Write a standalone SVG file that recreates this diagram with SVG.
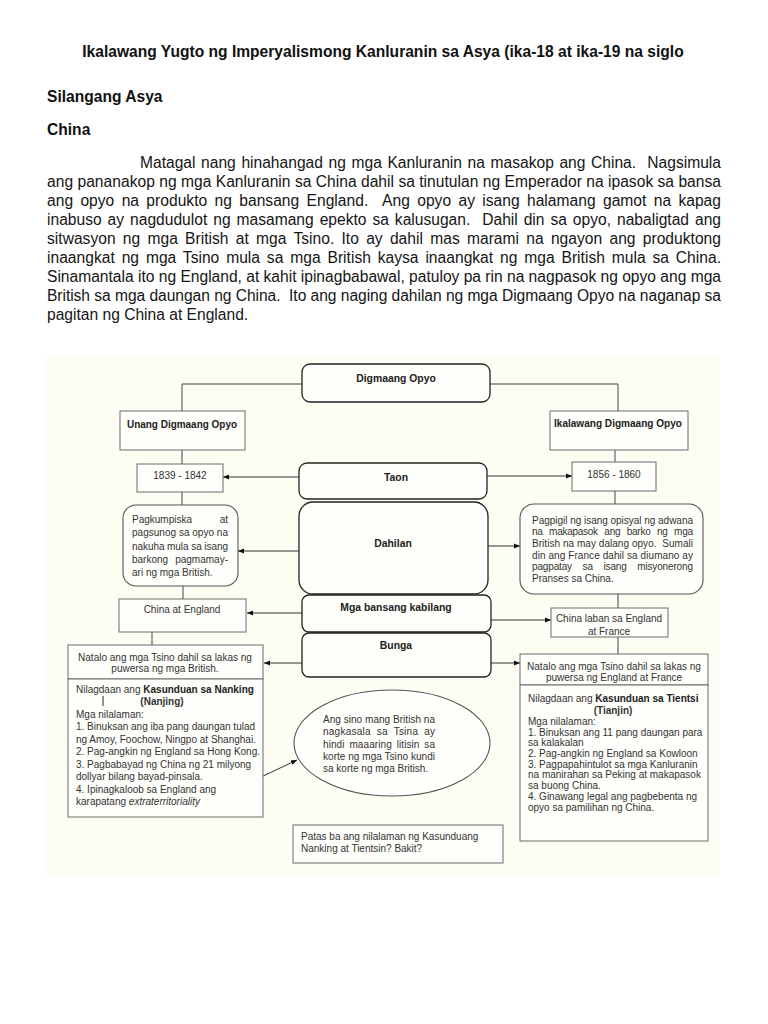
<svg xmlns="http://www.w3.org/2000/svg" width="768" height="1024" viewBox="0 0 768 1024">
<style>
text{font-family:'Liberation Sans',Arial,sans-serif;}
.h{font-size:15.6px;font-weight:bold;fill:#111;}
.p{font-size:15.6px;fill:#151515;}
.t{font-size:10px;fill:#333;}
.b{font-size:10.4px;font-weight:bold;fill:#222;}
.c{text-anchor:middle;}
.bx{fill:#fefefa;stroke:#6a6a6a;stroke-width:1;}
.rb{fill:#fefefa;stroke:#222;stroke-width:1.3;}
.rg{fill:#fefefa;stroke:#555;stroke-width:1.1;}
.ln{fill:none;stroke:#444;stroke-width:1;}
.ar{fill:none;stroke:#333;stroke-width:1;marker-end:url(#ah);}
</style>
<defs>
<marker id="ah" markerWidth="6" markerHeight="6" refX="6" refY="3" orient="auto" markerUnits="userSpaceOnUse">
<path d="M0,0.5 L6,3 L0,5.5 z" fill="#111"/>
</marker>
</defs>
<rect width="768" height="1024" fill="#ffffff"/>
<g id="header">
<text class="h c" x="383" y="57">Ikalawang Yugto ng Imperyalismong Kanluranin sa Asya (ika-18 at ika-19 na siglo</text>
<text class="h" x="47" y="102">Silangang Asya</text>
<text class="h" x="47" y="134.5">China</text>
</g>
<g id="paragraph">
<text class="p" x="140" y="168" word-spacing="1.3" textLength="581" lengthAdjust="spacing">Matagal nang hinahangad ng mga Kanluranin na masakop ang China.&#160; Nagsimula</text>
<text class="p" x="47" y="187" textLength="674" lengthAdjust="spacing">ang pananakop ng mga Kanluranin sa China dahil sa tinutulan ng Emperador na ipasok sa bansa</text>
<text class="p" x="47" y="206" word-spacing="3" textLength="674" lengthAdjust="spacing">ang opyo na produkto ng bansang England.&#160; Ang opyo ay isang halamang gamot na kapag</text>
<text class="p" x="47" y="225" word-spacing="1.6" textLength="674" lengthAdjust="spacing">inabuso ay nagdudulot ng masamang epekto sa kalusugan.&#160; Dahil din sa opyo, nabaligtad ang</text>
<text class="p" x="47" y="244" word-spacing="2.9" textLength="674" lengthAdjust="spacing">sitwasyon ng mga British at mga Tsino. Ito ay dahil mas marami na ngayon ang produktong</text>
<text class="p" x="47" y="263" word-spacing="2.5" textLength="674" lengthAdjust="spacing">inaangkat ng mga Tsino mula sa mga British kaysa inaangkat ng mga British mula sa China.</text>
<text class="p" x="47" y="282" textLength="674" lengthAdjust="spacing">Sinamantala ito ng England, at kahit ipinagbabawal, patuloy pa rin na nagpasok ng opyo ang mga</text>
<text class="p" x="47" y="301" textLength="674" lengthAdjust="spacing">British sa mga daungan ng China.&#160; Ito ang naging dahilan ng mga Digmaang Opyo na naganap sa</text>
<text class="p" x="47" y="320">pagitan ng China at England.</text>
</g>
<rect id="diagram-bg" x="46" y="355" width="673" height="522" fill="#fdfdf4"/>
<g id="connectors">
<polyline class="ln" points="302,384 182,384 182,411"/>
<polyline class="ln" points="490,384 618,384 618,411"/>
<line class="ln" x1="182" y1="450" x2="182" y2="464"/>
<line class="ln" x1="615" y1="450" x2="615" y2="462"/>
<line class="ar" x1="299" y1="477" x2="223" y2="477"/>
<line class="ar" x1="487" y1="476" x2="572" y2="476"/>
<line class="ln" x1="182" y1="492" x2="182" y2="505"/>
<line class="ln" x1="615" y1="491" x2="615" y2="504"/>
<line class="ar" x1="299" y1="551" x2="238" y2="551"/>
<line class="ar" x1="488" y1="546" x2="520" y2="546"/>
<line class="ln" x1="183" y1="586" x2="183" y2="599"/>
<line class="ln" x1="618" y1="594" x2="618" y2="608"/>
<line class="ar" x1="302" y1="613" x2="247" y2="613"/>
<line class="ar" x1="491" y1="620" x2="551" y2="620"/>
<line class="ln" x1="152" y1="632" x2="152" y2="645"/>
<line class="ln" x1="618" y1="637" x2="618" y2="654"/>
<line class="ar" x1="302" y1="663" x2="264" y2="663"/>
<line class="ar" x1="491" y1="663" x2="520" y2="663"/>
<line class="ar" x1="202" y1="805" x2="297" y2="760"/>
</g>
<g id="digmaang-opyo">
<rect class="rb" x="302" y="364" width="188" height="38" rx="8"/>
<text class="b c" x="396" y="381.5">Digmaang Opyo</text>
</g>
<g id="unang">
<rect class="bx" x="120" y="411" width="125" height="39"/>
<text class="b c" x="182" y="427.5" textLength="110" lengthAdjust="spacingAndGlyphs">Unang Digmaang Opyo</text>
</g>
<g id="ikalawang">
<rect class="bx" x="550" y="411" width="138" height="39"/>
<text class="b c" x="618" y="426.5" textLength="128" lengthAdjust="spacingAndGlyphs">Ikalawang Digmaang Opyo</text>
</g>
<g id="taon">
<rect class="rb" x="299" y="463" width="188" height="36" rx="8"/>
<text class="b c" x="396" y="480.5">Taon</text>
</g>
<g id="year-1">
<rect class="bx" x="137" y="464" width="86" height="28"/>
<text class="t c" x="180" y="478.5">1839 - 1842</text>
</g>
<g id="year-2">
<rect class="bx" x="572" y="462" width="84" height="29"/>
<text class="t c" x="614" y="477.5">1856 - 1860</text>
</g>
<g id="dahilan">
<rect class="rb" x="299" y="502" width="189" height="92" rx="14"/>
<text class="b c" x="393" y="547">Dahilan</text>
</g>
<g id="dahilan-1">
<rect class="rg" x="123" y="505" width="115" height="81" rx="13"/>
<text class="t" x="132" y="522.5">Pagkumpiska</text>
<text class="t" x="228" y="522.5" text-anchor="end">at</text>
<text class="t" x="132" y="536" textLength="96" lengthAdjust="spacing">pagsunog sa opyo na</text>
<text class="t" x="132" y="549.5" textLength="96" lengthAdjust="spacing">nakuha mula sa isang</text>
<text class="t" x="132" y="562.5">barkong</text>
<text class="t" x="228" y="562.5" text-anchor="end">pagmamay-</text>
<text class="t" x="132" y="575.5">ari ng mga British.</text>
</g>
<g id="dahilan-2">
<rect class="rg" x="520" y="504" width="183" height="90" rx="14"/>
<text class="t" x="532" y="523.5" textLength="161" lengthAdjust="spacing">Pagpigil ng isang opisyal ng adwana</text>
<text class="t" x="532" y="535.2" word-spacing="4" textLength="161" lengthAdjust="spacing">na makapasok ang barko ng mga</text>
<text class="t" x="532" y="546.8" textLength="161" lengthAdjust="spacing">British na may dalang opyo.&#160; Sumali</text>
<text class="t" x="532" y="558.5" textLength="161" lengthAdjust="spacing">din ang France dahil sa diumano ay</text>
<text class="t" x="532" y="570.2" word-spacing="8" textLength="161" lengthAdjust="spacing">pagpatay sa isang misyonerong</text>
<text class="t" x="532" y="581.8">Pranses sa China.</text>
</g>
<g id="kabilang">
<rect class="rb" x="302" y="595" width="189" height="37" rx="7"/>
<text class="b c" x="396" y="610.5">Mga bansang kabilang</text>
</g>
<g id="kabilang-1">
<rect class="bx" x="119" y="599" width="127" height="33"/>
<text class="t c" x="182" y="612.5">China at England</text>
</g>
<g id="kabilang-2">
<rect class="bx" x="551" y="608" width="117" height="29"/>
<text class="t c" x="609" y="621.5">China laban sa England</text>
<text class="t c" x="609" y="634.5">at France</text>
</g>
<g id="bunga">
<rect class="rb" x="302" y="633" width="189" height="44" rx="7"/>
<text class="b c" x="396" y="648.5">Bunga</text>
</g>
<g id="bunga-1">
<rect class="bx" x="68" y="645" width="195" height="34"/>
<text class="t c" x="165" y="660.5">Natalo ang mga Tsino dahil sa lakas ng</text>
<text class="t c" x="165" y="671.5">puwersa ng mga British.</text>
</g>
<g id="nanking">
<rect class="bx" x="68" y="679" width="195" height="138"/>
<text class="t" x="76" y="692.5">Nilagdaan ang <tspan font-weight="bold" fill="#222">Kasunduan sa Nanking</tspan></text>
<text class="t c" x="162" y="705" font-weight="bold" fill="#222">(Nanjing)</text>
<line x1="103" y1="696" x2="103" y2="706" stroke="#222" stroke-width="1"/>
<text class="t" x="76" y="717.5">Mga nilalaman:</text>
<text class="t" x="76" y="730">1. Binuksan ang iba pang daungan tulad</text>
<text class="t" x="76" y="742.5">ng Amoy, Foochow, Ningpo at Shanghai.</text>
<text class="t" x="76" y="755">2. Pag-angkin ng England sa Hong Kong.</text>
<text class="t" x="76" y="767.5">3. Pagbabayad ng China ng 21 milyong</text>
<text class="t" x="76" y="780">dollyar bilang bayad-pinsala.</text>
<text class="t" x="76" y="792.5">4. Ipinagkaloob sa England ang</text>
<text class="t" x="76" y="805">karapatang <tspan font-style="italic">extraterritoriality</tspan></text>
</g>
<g id="extraterritoriality">
<ellipse class="rg" cx="392" cy="743" rx="98" ry="53"/>
<text class="t" x="323" y="722.5" textLength="112" lengthAdjust="spacing">Ang sino mang British na</text>
<text class="t" x="323" y="735" word-spacing="3" textLength="112" lengthAdjust="spacing">nagkasala sa Tsina ay</text>
<text class="t" x="323" y="747.5" word-spacing="2" textLength="112" lengthAdjust="spacing">hindi maaaring litisin sa</text>
<text class="t" x="323" y="759.5" textLength="112" lengthAdjust="spacing">korte ng mga Tsino kundi</text>
<text class="t" x="323" y="772">sa korte ng mga British.</text>
</g>
<g id="question">
<rect class="bx" x="293" y="825" width="210" height="38"/>
<text class="t" x="301" y="839.5">Patas ba ang nilalaman ng Kasunduang</text>
<text class="t" x="301" y="851.5">Nanking at Tientsin? Bakit?</text>
</g>
<g id="bunga-2">
<rect class="bx" x="520" y="654" width="188" height="31"/>
<text class="t c" x="614" y="669.5">Natalo ang mga Tsino dahil sa lakas ng</text>
<text class="t c" x="614" y="680.5">puwersa ng England at France</text>
</g>
<g id="tientsin">
<rect class="bx" x="520" y="685" width="188" height="156"/>
<text class="t" x="528" y="701.5">Nilagdaan ang <tspan font-weight="bold" fill="#222">Kasunduan sa Tientsi</tspan></text>
<text class="t c" x="613" y="713.5" font-weight="bold" fill="#222">(Tianjin)</text>
<text class="t" x="528" y="724.5">Mga nilalaman:</text>
<text class="t" x="528" y="735.5">1. Binuksan ang 11 pang daungan para</text>
<text class="t" x="528" y="746">sa kalakalan</text>
<text class="t" x="528" y="757">2. Pag-angkin ng England sa Kowloon</text>
<text class="t" x="528" y="767.5">3. Pagpapahintulot sa mga Kanluranin</text>
<text class="t" x="528" y="778">na manirahan sa Peking at makapasok</text>
<text class="t" x="528" y="789">sa buong China.</text>
<text class="t" x="528" y="799.5">4. Ginawang legal ang pagbebenta ng</text>
<text class="t" x="528" y="810.5">opyo sa pamilihan ng China.</text>
</g>
</svg>
